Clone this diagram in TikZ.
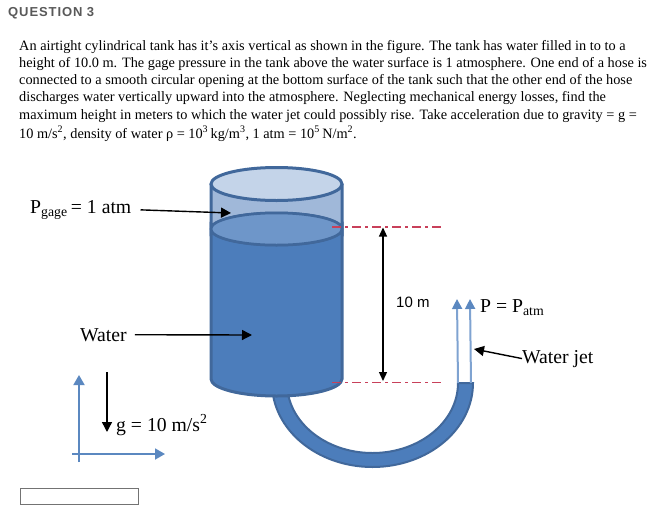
\documentclass[tikz,border=0pt]{standalone}
\usepackage{fontspec}
\setmainfont{Liberation Serif}
\newfontfamily\headfont[LetterSpace=7]{Liberation Sans}
\newfontfamily\armfont{Liberation Sans}
\usetikzlibrary{arrows.meta}
\definecolor{tankline}{HTML}{41689B}
\definecolor{water}{HTML}{4C7DBB}
\definecolor{airfill}{HTML}{A0B8D9}
\definecolor{topfill}{HTML}{C4D4E9}
\definecolor{surffill}{HTML}{6E96C9}
\definecolor{jetline}{HTML}{7FA3D1}
\definecolor{axisline}{HTML}{5B88C0}
\definecolor{levelline}{HTML}{C8405A}
\tikzset{
  bodytext/.style={anchor=base west,inner sep=0pt,font=\fontsize{14.3}{17}\selectfont},
  figlabel/.style={anchor=base west,inner sep=0pt,font=\fontsize{19.7}{23}\selectfont},
  blackarrow/.style={line width=1.4pt,-{Triangle[length=10pt,width=10pt]}},
  bluearrow/.style={axisline,line width=1.8pt,-{Triangle[length=10pt,width=11pt]}},
  jetarrow/.style={jetline,line width=2pt,-{Triangle[length=10pt,width=10pt,color=axisline]}},
  levelmark/.style={levelline,line width=1.3pt,dash pattern=on 9pt off 4pt on 3pt off 4pt}
}
\begin{document}
\begin{tikzpicture}[x=1pt,y=-1pt]

    \useasboundingbox (0,0) rectangle (665,520);

    \def\tankL{211} % Left side of the tank
    \def\tankR{342} % Right side of the tank
    \def\tankC{276.5}
    \def\tankRx{65.5}

    % Heading
    \node[anchor=base west,inner sep=0pt,text=black!65,font=\headfont\bfseries\fontsize{13}{15}\selectfont] (heading) at (8,16) {QUESTION 3};

    % Problem statement
    \node[bodytext] (lineA) at (19,50) {An airtight cylindrical tank has it’s axis vertical as shown in the figure. The tank has water filled in to to a};
    \node[bodytext] (lineB) at (19,67) {height of 10.0 m. The gage pressure in the tank above the water surface is 1 atmosphere. One end of a hose is};
    \node[bodytext] (lineC) at (19,84) {connected to a smooth circular opening at the bottom surface of the tank such that the other end of the hose};
    \node[bodytext] (lineD) at (19,101.5) {discharges water vertically upward into the atmosphere. Neglecting mechanical energy losses, find the};
    \node[bodytext] (lineE) at (19,119) {maximum height in meters to which the water jet could possibly rise. Take acceleration due to gravity = g =};
    \node[bodytext] (lineF) at (19,138) {10 m/s\textsuperscript{2}, density of water ρ = 10\textsuperscript{3}\,kg/m\textsuperscript{3}, 1 atm = 10\textsuperscript{5}\,N/m\textsuperscript{2}.};

    % Hose under the tank
    \filldraw[fill=water,draw=tankline,line width=2pt] (272,383) arc[start angle=180, end angle=0, x radius=100.5, y radius=84]
        -- (458,383) arc[start angle=0, end angle=180, x radius=85.5, y radius=70] -- cycle;

    % Water in the tank
    \filldraw[fill=water,draw=tankline,line width=3pt] (\tankL,229) -- (\tankL,379)
        arc[start angle=180, end angle=0, x radius=\tankRx, y radius=17] -- (\tankR,229)
        arc[start angle=0, end angle=180, x radius=\tankRx, y radius=16] -- cycle;

    % Air above the water
    \filldraw[fill=airfill,draw=tankline,line width=3pt] (\tankL,184) -- (\tankL,229)
        arc[start angle=180, end angle=360, x radius=\tankRx, y radius=16] -- (\tankR,184);

    % Top rim and water surface
    \filldraw[fill=surffill,draw=tankline,line width=2.5pt] (\tankC,229) ellipse[x radius=\tankRx, y radius=16];
    \filldraw[fill=topfill,draw=tankline,line width=3pt] (\tankC,184) ellipse[x radius=\tankRx, y radius=16.5];

    % Water level lines
    \coordinate (surfA) at (332,227);
    \coordinate (surfB) at (443,227);
    \coordinate (baseA) at (332,382.5);
    \coordinate (baseB) at (443,382.5);
    \draw[levelmark] (surfA) -- (surfB);
    \draw[levelmark] (baseA) -- (baseB);

    % Height between the levels
    \coordinate (heightA) at (383,227.5);
    \coordinate (heightB) at (383,381);
    \draw[line width=1.3pt,{Triangle[length=9pt,width=8pt]}-{Triangle[length=9pt,width=8pt]}] (heightA) -- (heightB);
    \node[anchor=base west,inner sep=0pt,font=\armfont\fontsize{15}{17}\selectfont] (height) at (396,307) {10 m};

    % Water jet
    \coordinate (jetA) at (458,383);
    \coordinate (jetB) at (471,383);
    \coordinate (jetC) at (457,299);
    \coordinate (jetD) at (470,299);
    \draw[jetarrow] (jetA) -- (jetC);
    \draw[jetarrow] (jetB) -- (jetD);
    \node[figlabel] (patm) at (480,312) {P = P\textsubscript{atm}};

    % Labels with their arrows
    \coordinate (gageTip) at (231,213);
    \node[figlabel] (pgage) at (30,213) {P\textsubscript{gage}\,= 1 atm};
    \draw[blackarrow,shorten <=9pt] (pgage.east) -- (gageTip);

    \coordinate (waterTip) at (252,335);
    \node[figlabel] (waterlabel) at (80,341) {Water};
    \draw[blackarrow,shorten <=8pt] (waterlabel.east) -- (waterTip);

    \coordinate (jetTip) at (474,349);
    \node[figlabel] (jetlabel) at (522,363) {Water jet};
    \draw[blackarrow] (jetlabel.west) -- (jetTip);

    % Gravity
    \coordinate (gravA) at (107,372);
    \coordinate (gravB) at (107,432);
    \draw[blackarrow] (gravA) -- (gravB);
    \node[figlabel] (gravity) at (116,431) {g = 10 m/s\textsuperscript{2}};

    % Axes
    \coordinate (axisA) at (79,462);
    \coordinate (axisB) at (79,375);
    \coordinate (axisC) at (72,454);
    \coordinate (axisD) at (165,454);
    \draw[bluearrow] (axisA) -- (axisB);
    \draw[bluearrow] (axisC) -- (axisD);

    % Answer box
    \node[draw=black!55,line width=0.9pt,anchor=north west,minimum width=118pt,minimum height=16pt,inner sep=0pt] (answer) at (19.5,488) {};

\end{tikzpicture}
\end{document}
